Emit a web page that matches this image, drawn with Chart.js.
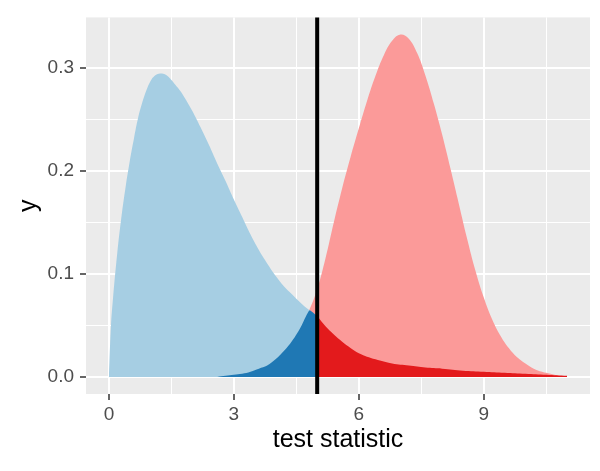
<!DOCTYPE html>
<html>
<head>
<meta charset="utf-8">
<script src="https://cdn.jsdelivr.net/npm/chart.js@4"></script>
<style>
  body { margin: 0; background: #fff; }
  #wrap { width: 600px; height: 471px; }
</style>
</head>
<body>
<div id="wrap"><canvas id="powerChart" width="600" height="471"></canvas></div>
<script>
// axis breaks
const xTicks = [0, 3, 6, 9];
const xMinor = [1.5, 4.5, 7.5, 10.5];
const yTicks = [0, 0.1, 0.2, 0.3];
const yMinor = [0.05, 0.15, 0.25];
const criticalValue = 5;

// null distribution (light blue)
const nullX = [0, 0.05, 0.1, 0.2, 0.3, 0.4, 0.5, 0.6, 0.7, 0.8, 0.9, 1.0, 1.1, 1.2, 1.3, 1.4, 1.5, 1.6, 1.7, 1.8, 2.0, 2.2, 2.4, 2.6, 2.8, 3.0, 3.2, 3.4, 3.6, 3.8, 4.0, 4.2, 4.4, 4.6, 4.8, 5.0];
const nullY = [0, 0.05, 0.077, 0.12, 0.155, 0.184, 0.209, 0.231, 0.251, 0.266, 0.278, 0.287, 0.292, 0.294, 0.294, 0.292, 0.288, 0.283, 0.278, 0.272, 0.258, 0.242, 0.225, 0.207, 0.19, 0.172, 0.155, 0.138, 0.123, 0.11, 0.098, 0.088, 0.08, 0.072, 0.065, 0.059];

// right tail of the null past the critical value (dark red)
const alphaX = [5.0, 5.2, 5.4, 5.6, 5.8, 6.0, 6.4, 6.8, 7.2, 7.6, 8.0, 8.5, 9.0, 9.5, 10.0, 10.5, 11.0];
const alphaY = [0.059, 0.049, 0.041, 0.034, 0.028, 0.023, 0.017, 0.013, 0.011, 0.009, 0.008, 0.006, 0.005, 0.004, 0.003, 0.002, 0.001];

// alternative distribution (light red)
const altX = [2.6, 2.8, 3.0, 3.2, 3.4, 3.6, 3.8, 4.0, 4.2, 4.4, 4.6, 4.8, 5.0, 5.2, 5.4, 5.6, 5.8, 6.0, 6.2, 6.4, 6.6, 6.8, 7.0, 7.2, 7.4, 7.6, 7.8, 8.0, 8.2, 8.4, 8.6, 8.8, 9.0, 9.2, 9.4, 9.6, 9.8, 10.0, 10.2, 10.4, 10.6, 10.8, 11.0];
const altY = [0, 0.001, 0.002, 0.003, 0.005, 0.008, 0.011, 0.017, 0.025, 0.035, 0.048, 0.064, 0.085, 0.115, 0.15, 0.183, 0.213, 0.241, 0.268, 0.292, 0.312, 0.326, 0.332, 0.328, 0.314, 0.292, 0.265, 0.235, 0.202, 0.168, 0.134, 0.103, 0.077, 0.056, 0.04, 0.028, 0.019, 0.013, 0.008, 0.005, 0.003, 0.001, 0];

// overlap left of the critical value (dark blue)
const betaX = [2.6, 2.8, 3.0, 3.2, 3.4, 3.6, 3.8, 4.0, 4.2, 4.4, 4.6, 4.8, 4.85, 5.0];
const betaY = [0, 0.001, 0.002, 0.003, 0.005, 0.008, 0.011, 0.017, 0.025, 0.035, 0.048, 0.064, 0.064, 0.059];

const fontFamily = '"Liberation Sans", Arial, Helvetica, sans-serif';

function toPoints(xs, ys) {
    return xs.map((x, i) => ({ x: x, y: ys[i] }));
}

function areaDataset(xs, ys, color, order) {
    return {
        data: toPoints(xs, ys),
        backgroundColor: color,
        borderWidth: 0,
        pointRadius: 0,
        fill: 'origin',
        tension: 0.4,
        order: order
    };
}

// grey ggplot panel behind everything
const panelBackground = {
    id: 'panelBackground',
    beforeDraw(chart) {
        const { ctx, chartArea } = chart;
        ctx.save();
        ctx.fillStyle = '#EBEBEB';
        ctx.fillRect(chartArea.left, chartArea.top, chartArea.right - chartArea.left, chartArea.bottom - chartArea.top);
        ctx.restore();
    }
};

function gridOptions(majors) {
    return {
        color: '#FFFFFF',
        lineWidth: ctx => majors.includes(ctx.tick.value) ? 2 : 1,
        drawTicks: true,
        tickLength: 6,
        tickWidth: 1.5,
        tickColor: ctx => majors.includes(ctx.tick.value) ? '#333333' : 'rgba(0,0,0,0)'
    };
}

const ctx = document.getElementById('powerChart').getContext('2d');
new Chart(ctx, {
    type: 'line',
    data: {
        datasets: [
            areaDataset(altX, altY, '#FB9A99', 4),
            areaDataset(nullX, nullY, '#A6CEE3', 3),
            areaDataset(betaX, betaY, '#1F78B4', 2),
            areaDataset(alphaX, alphaY, '#E31A1C', 1),
            {
                data: [{ x: criticalValue, y: -1 }, { x: criticalValue, y: 1 }],
                borderColor: '#000000',
                borderWidth: 4,
                pointRadius: 0,
                fill: false,
                clip: 0,
                order: 0
            }
        ]
    },
    options: {
        responsive: false,
        animation: false,
        layout: { padding: { top: 13, right: 10, left: 0, bottom: 0 } },
        plugins: {
            legend: { display: false },
            tooltip: { enabled: false }
        },
        scales: {
            x: {
                type: 'linear',
                min: -0.55,
                max: 11.55,
                afterBuildTicks: axis => {
                    axis.ticks = xTicks.concat(xMinor).sort((a, b) => a - b).map(v => ({ value: v }));
                },
                afterFit: scale => { scale.height = 77; },
                grid: gridOptions(xTicks),
                border: { display: false },
                ticks: {
                    padding: 3,
                    color: '#4D4D4D',
                    font: { family: fontFamily, size: 19 },
                    maxRotation: 0,
                    autoSkip: false,
                    callback: value => xTicks.includes(value) ? String(value) : ''
                },
                title: {
                    display: true,
                    text: 'test statistic',
                    color: '#000000',
                    font: { family: fontFamily, size: 25 },
                    padding: { top: 0, bottom: 16 }
                }
            },
            y: {
                type: 'linear',
                min: -0.0166,
                max: 0.3486,
                afterBuildTicks: axis => {
                    axis.ticks = yTicks.concat(yMinor).sort((a, b) => a - b).map(v => ({ value: v }));
                },
                afterFit: scale => { scale.width = 86; },
                grid: gridOptions(yTicks),
                border: { display: false },
                ticks: {
                    padding: 6,
                    color: '#4D4D4D',
                    font: { family: fontFamily, size: 19 },
                    autoSkip: false,
                    callback: value => yTicks.includes(value) ? value.toFixed(1) : ''
                },
                title: {
                    display: true,
                    text: 'y',
                    color: '#000000',
                    font: { family: fontFamily, size: 25 },
                    padding: { top: 14, bottom: 0 }
                }
            }
        }
    },
    plugins: [panelBackground]
});
</script>
</body>
</html>
